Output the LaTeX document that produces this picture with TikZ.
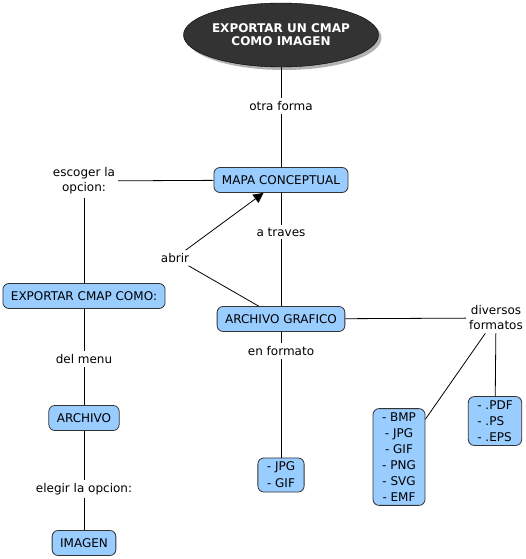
\documentclass[tikz,border=0pt]{standalone}
\usepackage{fontspec}
\setmainfont{DejaVu Sans}
\usetikzlibrary{arrows.meta,shapes.geometric,shadows}
\definecolor{cbox}{RGB}{153,204,255}
\definecolor{cdark}{RGB}{51,51,51}
\begin{document}
\begin{tikzpicture}[x=1pt,y=-1pt,
  font=\fontsize{12}{15}\selectfont,
  concept/.style={draw=cdark,fill=cbox,rounded corners=6pt,line width=0.8pt,inner xsep=8pt,inner ysep=4pt,minimum height=25pt,align=center},
  lbl/.style={inner sep=3pt,align=center},
  conn/.style={draw=black,line width=0.8pt}]
\useasboundingbox (0,0) rectangle (526,559);
\node[ellipse,draw=black,fill=cdark,minimum width=166pt,minimum height=64pt,inner sep=0pt,
  drop shadow={shadow xshift=3pt,shadow yshift=-3pt,fill=gray!60,opacity=1},
  text=white,font=\fontsize{12}{13}\selectfont\bfseries,align=center] (root) at (281,35) {EXPORTAR UN CMAP\\COMO IMAGEN};
\node[lbl] (otra) at (281,106) {otra forma};
\node[concept] (mapa) at (281,180) {MAPA CONCEPTUAL};
\node[lbl] (esc) at (84,181) {escoger la\\opcion:};
\node[lbl] (atr) at (281,232) {a traves};
\node[lbl] (abr) at (175,258) {abrir};
\node[concept] (exp) at (84,296) {EXPORTAR CMAP COMO:};
\node[concept] (ag) at (281,319) {ARCHIVO GRAFICO};
\node[lbl] (div) at (496,318) {diversos\\formatos};
\node[lbl] (del) at (84,359) {del menu};
\node[lbl] (enf) at (281,351) {en formato};
\node[concept] (arc) at (84,418) {ARCHIVO};
\node[lbl] (ele) at (84,489) {elegir la opcion:};
\node[concept] (img) at (84,543) {IMAGEN};
\node[concept,inner xsep=9pt,font=\fontsize{12}{17}\selectfont] (jpg) at (281,475) {- JPG\\- GIF};
\node[concept,inner xsep=9pt,font=\fontsize{12}{16}\selectfont] (bmp) at (399,457) {- BMP\\- JPG\\- GIF\\- PNG\\- SVG\\- EMF};
\node[concept,inner xsep=9pt,align=left,font=\fontsize{12}{16}\selectfont] (pdf) at (495,421) {- .PDF\\- .PS\\- .EPS};
\draw[conn] (root) -- (otra);
\draw[conn] (otra) -- (mapa);
\draw[conn] (mapa) -- (esc);
\draw[conn] (esc) -- (exp);
\draw[conn] (mapa) -- (atr);
\draw[conn] (atr) -- (ag);
\draw[conn] (ag) -- (abr);
\draw[conn,-{Triangle[length=10pt,width=10pt]}] (abr) -- (mapa);
\draw[conn] (exp) -- (del);
\draw[conn] (del) -- (arc);
\draw[conn] (arc) -- (ele);
\draw[conn] (ele) -- (img);
\draw[conn] (ag) -- (enf);
\draw[conn] (enf) -- (jpg);
\draw[conn] (ag) -- (div);
\draw[conn] (div) -- (bmp);
\draw[conn] (div) -- (pdf);
\end{tikzpicture}
\end{document}
